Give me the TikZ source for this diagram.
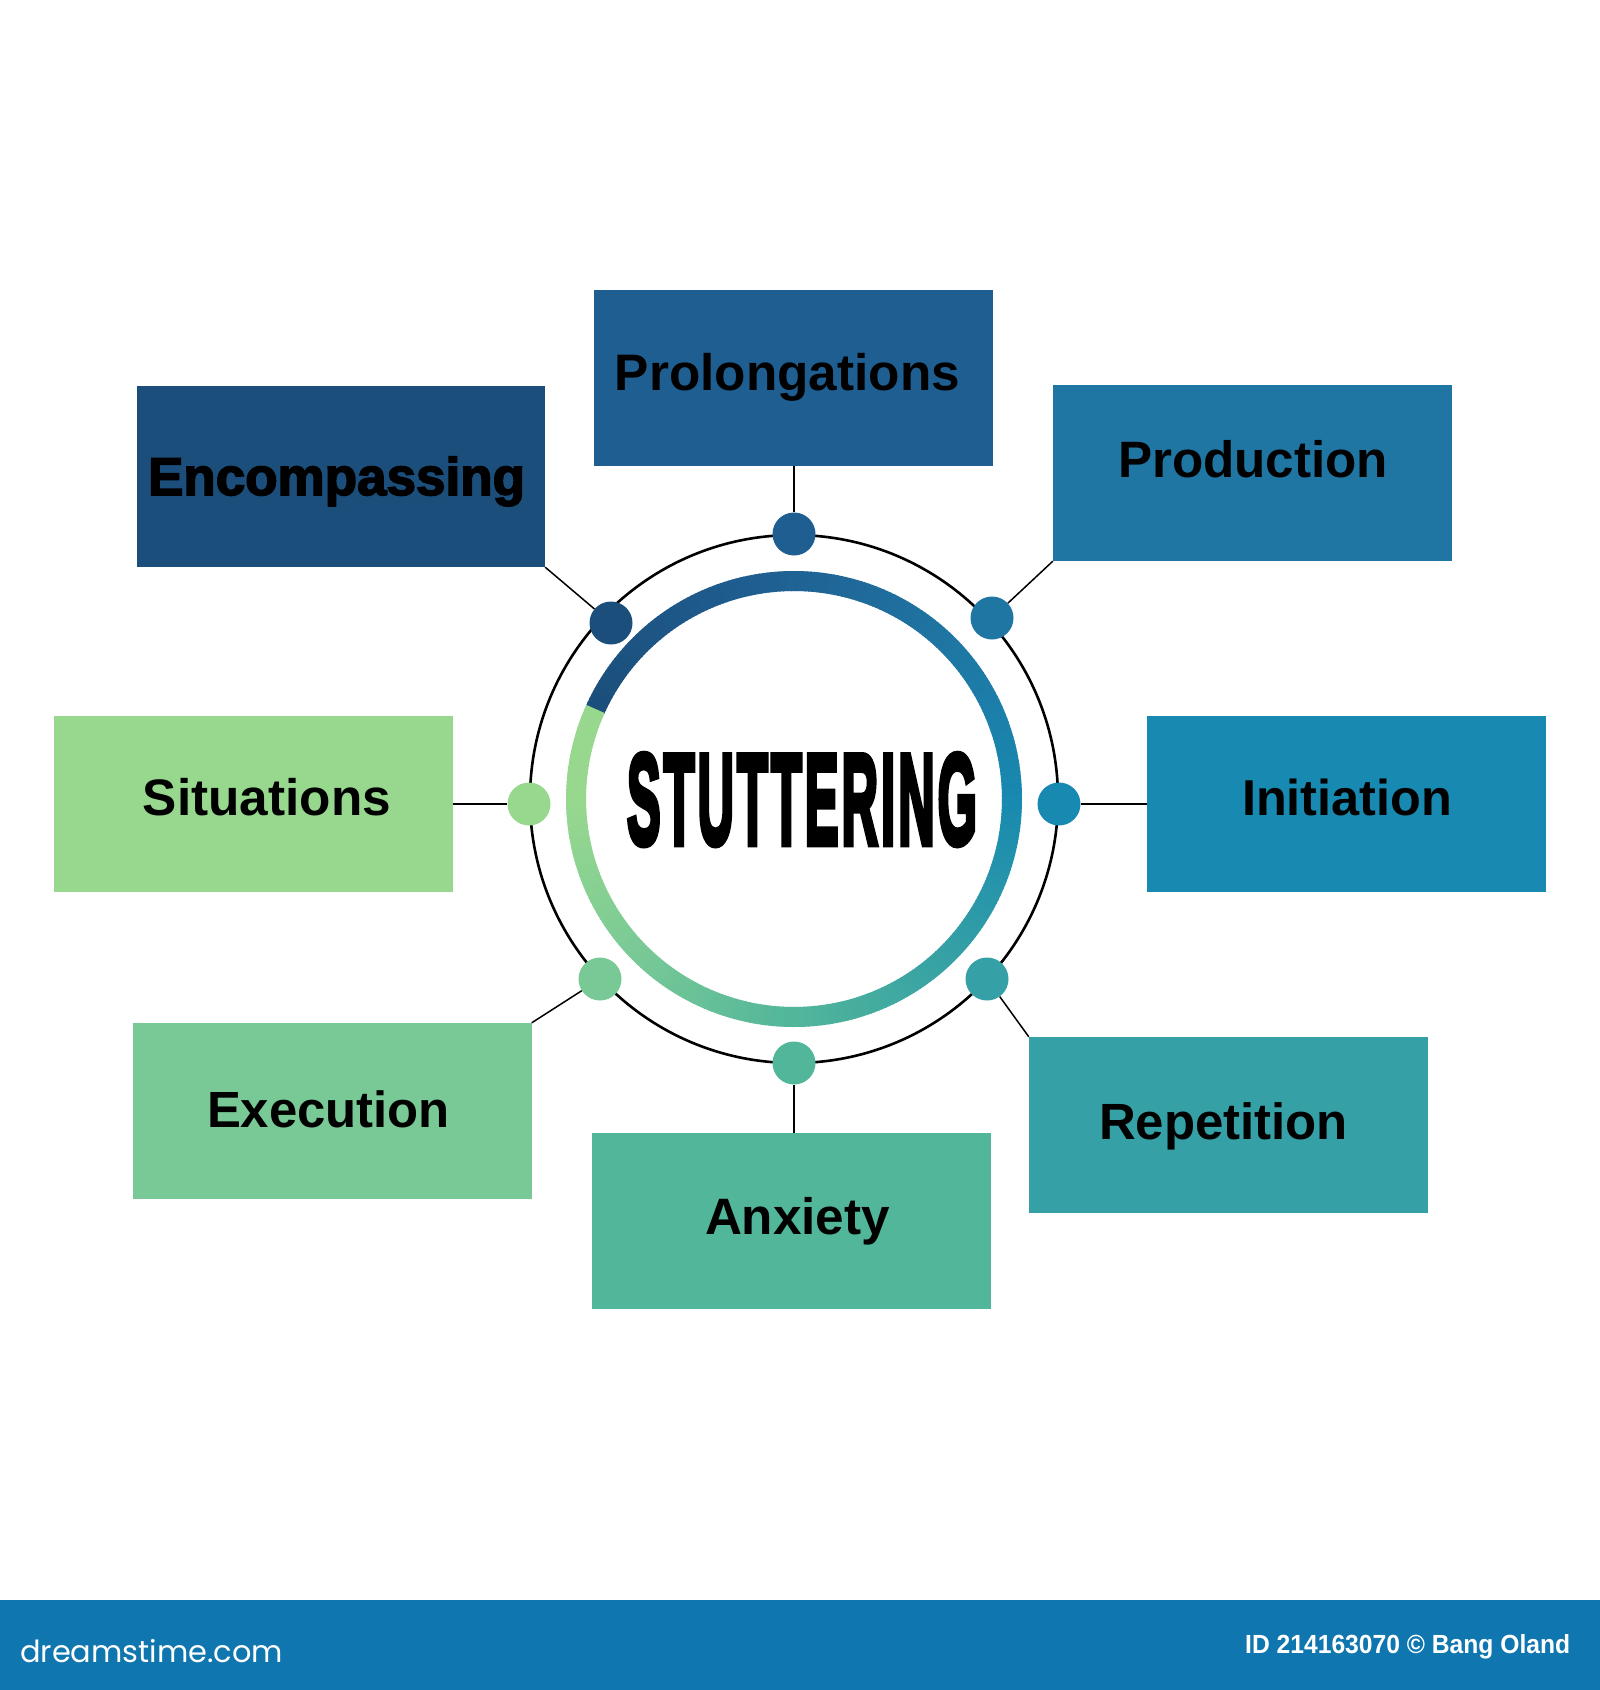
\documentclass[tikz,border=0pt]{standalone}
\usepackage{fontspec}
\usepackage{graphicx}
\setmainfont{Liberation Sans}
\newfontfamily\heavyfont[FakeBold=5, LetterSpace=6]{Liberation Sans Bold}
\newfontfamily\blackfont[FakeBold=3]{Liberation Sans Bold}
\newfontfamily\logofont{Poppins}
\definecolor{cEnc}{HTML}{1B4E7A}
\definecolor{cPro}{HTML}{1F5E91}
\definecolor{cProd}{HTML}{1F76A3}
\definecolor{cIni}{HTML}{1889B0}
\definecolor{cRep}{HTML}{35A0A5}
\definecolor{cAnx}{HTML}{51B69A}
\definecolor{cExe}{HTML}{79C996}
\definecolor{cSit}{HTML}{98D88E}
\definecolor{cBan}{HTML}{1076AF}
\newcommand{\boxlabel}[2]{\resizebox{#1pt}{!}{\fontsize{51}{51}\selectfont\bfseries #2}}
\tikzset{
  panel/.style={rectangle, inner sep=0pt, minimum width=399pt, minimum height=176pt},
  lbl/.style={anchor=base, inner sep=0pt, text=black},
  dotnode/.style={circle, inner sep=0pt, minimum size=43pt},
  link/.style={draw=black, line width=1.5pt},
}
\begin{document}
\begin{tikzpicture}[x=1pt,y=1pt]
\useasboundingbox (0,0) rectangle (1600,-1690);
\coordinate (ctr) at (794,-799);
% gradient ring
\foreach \a/\b/\ca/\cb in {156/100/cEnc/cPro, 100/45/cPro/cProd, 45/0/cProd/cIni, 0/-45/cIni/cRep, -45/-90/cRep/cAnx, -90/-135/cAnx/cExe, -135/-180/cExe/cSit, -180/-204/cSit/cSit}{
  \pgfmathtruncatemacro\n{\a-\b}
  \foreach \i in {1,...,\n}{
    \pgfmathsetmacro\s{\a-\i+1}
    \pgfmathsetmacro\p{100*(\s-0.5-\b)/(\a-\b)}
    \colorlet{segc}{\ca!\p!\cb}
    \draw[line width=20pt, segc] (ctr) ++(\s:218pt) arc[start angle=\s, end angle=\s-1.4, radius=218pt];
  }
}
% outer circle
\draw[line width=2.6pt] (ctr) circle[radius=264pt];
% boxes
\node[panel, fill=cEnc, minimum width=408pt, minimum height=181pt] (enc) at (341,-476.5) {};
\node[panel, fill=cPro] (pro) at (793.5,-378) {};
\node[panel, fill=cProd] (prod) at (1252.5,-473) {};
\node[panel, fill=cSit] (sit) at (253,-804) {};
\node[panel, fill=cIni] (ini) at (1346.5,-804) {};
\node[panel, fill=cExe] (exe) at (332,-1111) {};
\node[panel, fill=cRep] (rep) at (1228.5,-1125) {};
\node[panel, fill=cAnx] (anx) at (791.5,-1221) {};
% dots
\node[dotnode, fill=cPro] (dT) at (794,-534) {};
\node[dotnode, fill=cEnc] (dUL) at (611,-623) {};
\node[dotnode, fill=cProd] (dUR) at (992,-618) {};
\node[dotnode, fill=cIni] (dR) at (1059,-804) {};
\node[dotnode, fill=cSit] (dL) at (529,-804) {};
\node[dotnode, fill=cAnx] (dB) at (794,-1063) {};
\node[dotnode, fill=cExe] (dLL) at (600,-979) {};
\node[dotnode, fill=cRep] (dLR) at (987,-979) {};
% connectors
\draw[link] (dT |- pro.south) -- (dT);
\draw[link] (enc.south east) -- (dUL);
\draw[link] (prod.south west) -- (dUR);
\draw[link] (dL -| sit.east) -- (dL);
\draw[link] (dR -| ini.west) -- (dR);
\draw[link] (exe.north east) -- (dLL);
\draw[link] (rep.north west) -- (dLR);
\draw[link] (dB |- anx.north) -- (dB);
% labels
\node[lbl] (encT) at (336.5,-495) {\resizebox{377pt}{!}{\fontsize{51}{51}\selectfont\blackfont Encompassing}};
\node[lbl] (proT) at (787.5,-390) {\boxlabel{345}{Prolongations}};
\node[lbl] (prodT) at (1253,-477) {\boxlabel{270}{Production}};
\node[lbl] (sitT) at (267,-815) {\boxlabel{248}{Situations}};
\node[lbl] (iniT) at (1347,-815) {\boxlabel{210}{Initiation}};
\node[lbl] (exeT) at (328.5,-1127) {\boxlabel{243}{Execution}};
\node[lbl] (repT) at (1223.5,-1139) {\boxlabel{249}{Repetition}};
\node[lbl] (anxT) at (797.5,-1234) {\boxlabel{185}{Anxiety}};
% title
\node[lbl] (title) at (802,-844) {\resizebox{350pt}{90pt}{\heavyfont STUTTERING}};
% banner
\node[rectangle, fill=cBan, inner sep=0pt, minimum width=1600pt, minimum height=90pt, anchor=north west] (banner) at (0,-1600) {};
\node[anchor=base west, inner sep=0pt, text=white] (logo) at (20,-1662) {\resizebox{263pt}{!}{\fontsize{36}{36}\selectfont\logofont dreamstime.com}};
\node[anchor=base west, inner sep=0pt, text=white] (credit) at (1245,-1653) {\resizebox{325pt}{19pt}{\fontsize{25}{25}\selectfont\bfseries ID 214163070 © Bang Oland}};
\end{tikzpicture}
\end{document}
